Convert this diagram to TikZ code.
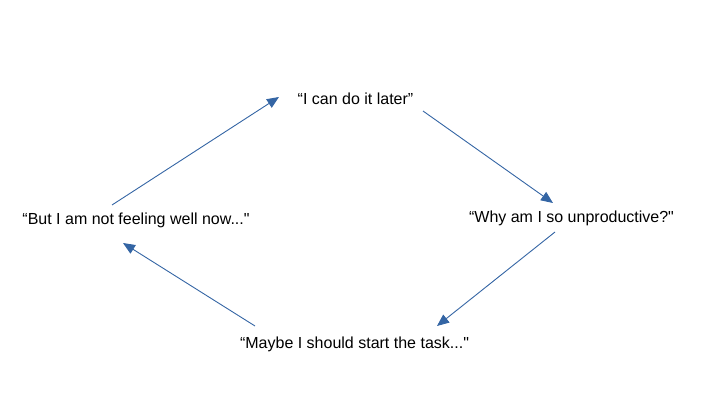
\documentclass[tikz,border=0pt]{standalone}
\usepackage{fontspec}
\setmainfont{Liberation Sans}
\usepackage{xcolor}
\usetikzlibrary{arrows.meta}

\definecolor{loopblue}{HTML}{3465A4}

\begin{document}
\begin{tikzpicture}[x=1pt, y=-1pt] % pixel units, y down
        \useasboundingbox (0,0) rectangle (704,417);
        \tikzset{
            thought/.style={anchor=base, inner sep=0pt, font=\fontsize{16}{19}\selectfont},
            loop/.style={draw=loopblue, line width=0.9pt, -{Triangle[length=12pt, width=10pt]}}
        }

        % Thoughts
        \node[thought] (later) at (355.5,105) {“I can do it later”};
        \node[thought] (unprod) at (571.5,222) {“Why am I so unproductive?\textquotedbl};
        \node[thought] (task) at (354.5,348) {“Maybe I should start the task...\textquotedbl};
        \node[thought] (feel) at (136,224) {“But I am not feeling well now...\textquotedbl};

        % Arrow ends
        \coordinate (feelout) at (112,205);
        \coordinate (laterin) at (279,97);
        \coordinate (laterout) at (423,111);
        \coordinate (unprodin) at (553,203);
        \coordinate (unprodout) at (555,232);
        \coordinate (taskin) at (437,326);
        \coordinate (taskout) at (255,326);
        \coordinate (feelin) at (123,243);

        % Loop
        \draw[loop] (feelout) -- (laterin);
        \draw[loop] (laterout) -- (unprodin);
        \draw[loop] (unprodout) -- (taskin);
        \draw[loop] (taskout) -- (feelin);
    \end{tikzpicture}
\end{document}
